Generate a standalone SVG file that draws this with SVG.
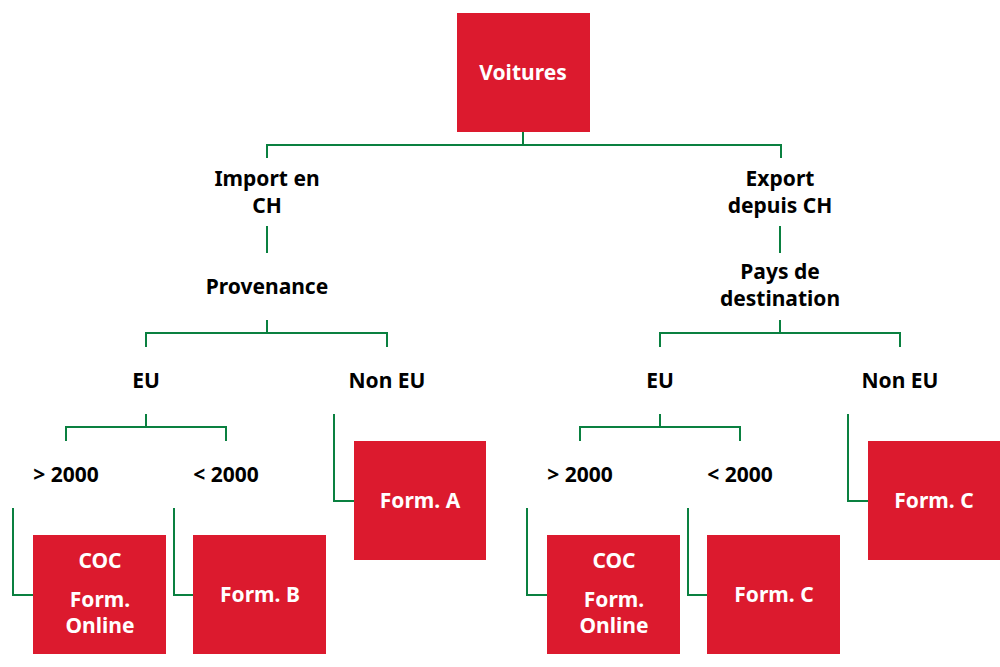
<svg xmlns="http://www.w3.org/2000/svg" width="1000" height="667" viewBox="0 0 1000 667">
<style>
.box{fill:#DC1A2E}
.lbl{font-family:"Noto Sans","Open Sans","DejaVu Sans",sans-serif;font-weight:bold;font-size:21px;fill:#000;text-anchor:middle}
.bt{font-family:"Noto Sans","Open Sans","DejaVu Sans",sans-serif;font-weight:bold;font-size:21px;fill:#fff;text-anchor:middle}
.c{fill:none;stroke:#0A8040;stroke-width:2}
</style>
<rect width="1000" height="667" fill="#fff"/>
<g id="connectors">
<path class="c" d="M523,132V145M267,158V145H781V158"/>
<path class="c" d="M267,226V253M780,226V253"/>
<path class="c" d="M267,320V333M146,347V333H387V347"/>
<path class="c" d="M780,320V333M660,347V333H900V347"/>
<path class="c" d="M146,414V427M66,441V427H226V441"/>
<path class="c" d="M660,414V427M580,441V427H740V441"/>
<path class="c" d="M13,508V595H33M174,508V595H193"/>
<path class="c" d="M527,508V595H547M688,508V595H707"/>
<path class="c" d="M334,414V501H354M848,414V501H868"/>
</g>
<g id="voitures"><rect class="box" x="457" y="13" width="133" height="119"/><text class="bt" x="523" y="80">Voitures</text></g>
<g id="import"><text class="lbl" x="267" y="186">Import en</text><text class="lbl" x="267" y="213">CH</text></g>
<g id="export"><text class="lbl" x="780" y="186">Export</text><text class="lbl" x="780" y="213">depuis CH</text></g>
<g id="provenance"><text class="lbl" x="267" y="294">Provenance</text></g>
<g id="pays"><text class="lbl" x="780" y="279">Pays de</text><text class="lbl" x="780" y="306">destination</text></g>
<g id="eu-l"><text class="lbl" x="146" y="388">EU</text></g>
<g id="noneu-l"><text class="lbl" x="387" y="388">Non EU</text></g>
<g id="eu-r"><text class="lbl" x="660" y="388">EU</text></g>
<g id="noneu-r"><text class="lbl" x="900" y="388">Non EU</text></g>
<g id="gt-l"><text class="lbl" x="66" y="482">&gt; 2000</text></g>
<g id="lt-l"><text class="lbl" x="226" y="482">&lt; 2000</text></g>
<g id="gt-r"><text class="lbl" x="580" y="482">&gt; 2000</text></g>
<g id="lt-r"><text class="lbl" x="740" y="482">&lt; 2000</text></g>
<g id="coc-l"><rect class="box" x="33" y="535" width="133" height="119"/><text class="bt" x="100" y="568">COC</text><text class="bt" x="100" y="607">Form.</text><text class="bt" x="100" y="633">Online</text></g>
<g id="formb"><rect class="box" x="193" y="535" width="133" height="119"/><text class="bt" x="260" y="602">Form. B</text></g>
<g id="forma"><rect class="box" x="354" y="441" width="132" height="119"/><text class="bt" x="420" y="508">Form. A</text></g>
<g id="coc-r"><rect class="box" x="547" y="535" width="133" height="119"/><text class="bt" x="614" y="568">COC</text><text class="bt" x="614" y="607">Form.</text><text class="bt" x="614" y="633">Online</text></g>
<g id="formc-b"><rect class="box" x="707" y="535" width="133" height="119"/><text class="bt" x="774" y="602">Form. C</text></g>
<g id="formc-r"><rect class="box" x="868" y="441" width="132" height="119"/><text class="bt" x="934" y="508">Form. C</text></g>
</svg>
